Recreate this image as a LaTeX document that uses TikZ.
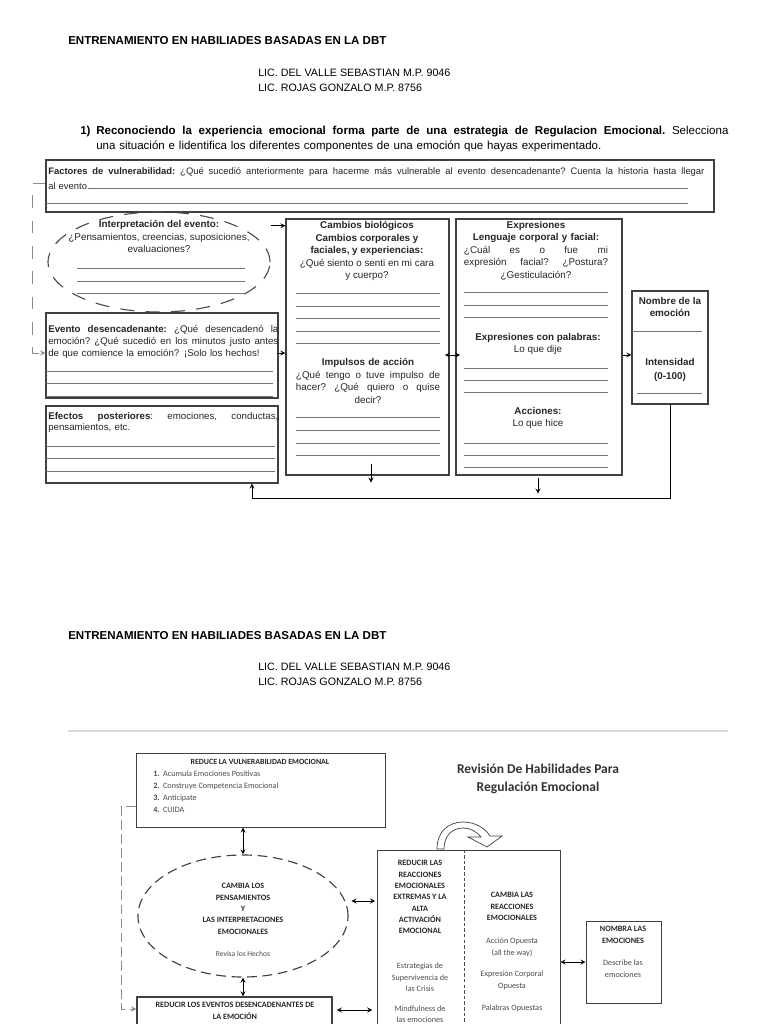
\documentclass[tikz,border=0pt]{standalone}
\usepackage{fontspec}
\setmainfont{Liberation Sans}
\newfontfamily\calibri{Carlito}
\usetikzlibrary{shapes.geometric, arrows, positioning, fit}
\tikzstyle{panel} = [rectangle, draw=black!75, line width=0.8pt, inner sep=0pt]
\tikzstyle{blank} = [draw=black!55, line width=0.45pt]
\tikzstyle{arrow} = [line width=0.6pt, ->, >=stealth]
\tikzstyle{twoway} = [line width=0.6pt, <->, >=stealth]
\tikzstyle{guide} = [draw=black!45, line width=0.7pt, ->, >=stealth]
\tikzstyle{formtext} = [inner sep=0pt, font=\fontsize{7}{8.9}\selectfont, align=center, text=black!85]
\tikzstyle{cardbold} = [inner sep=0pt, font=\calibri\bfseries\fontsize{5.8}{8.1}\selectfont, align=center, text=black!85]
\tikzstyle{cardtext} = [inner sep=0pt, font=\calibri\fontsize{5.8}{8.1}\selectfont, align=center, text=black!70]
\newcommand{\spread}[1]{\leavevmode\hbox to \hsize{\frenchspacing\spaceskip=0.27em plus 2em minus 0.04em\xspaceskip=\spaceskip\relax #1}}

\begin{document}
\begin{tikzpicture}[x=0.025cm, y=-0.025cm]
    \useasboundingbox (0,0) rectangle (768,1024);
    \fill [white] (0,0) rectangle (768,1024);
    \clip (0,0) rectangle (768,1024);

    % Page 1: header
    \node (head) [anchor=west, inner sep=0pt, font=\bfseries\fontsize{8.2}{10}\selectfont] at (68,41) {ENTRENAMIENTO EN HABILIADES BASADAS EN LA DBT};
    \node (lic) [anchor=north west, inner sep=0pt, align=left, font=\fontsize{7.6}{10.7}\selectfont] at (258,69) {LIC. DEL VALLE SEBASTIAN M.P. 9046\\LIC. ROJAS GONZALO M.P. 8756};
    \node (num) [anchor=north west, inner sep=0pt, font=\bfseries\fontsize{8.2}{10.7}\selectfont] at (80,126) {1)};
    \node (task) [anchor=north west, inner sep=0pt, align=left, text width=15.8cm, font=\fontsize{8.2}{10.7}\selectfont] at (96,126) {\spread{\textbf{Reconociendo la experiencia emocional forma parte de una estrategia de Regulacion Emocional.} Selecciona}\\una situación e lidentifica los diferentes componentes de una emoción que hayas experimentado.};

    % Form boxes
    \node (factores) [panel, fit={(46,160) (714,212)}] {};
    \node (factext) [formtext, anchor=north west, align=left, text width=16.4cm, font=\fontsize{6.7}{11}\selectfont] at (48,167) {\spread{\textbf{Factores de vulnerabilidad:} ¿Qué sucedió anteriormente para hacerme más vulnerable al evento desencadenante? Cuenta la historia hasta llegar}\\al evento.};
    \draw [blank] (89,188) -- (688,188);
    \draw [blank] (46,203) -- (688,203);

    \node (interp) [ellipse, draw=black!70, line width=0.8pt, dash pattern=on 10pt off 8pt, minimum width=5.55cm, minimum height=2.5cm, inner sep=0pt] at (159,262) {};
    \node (interptext) [formtext, anchor=north] at (159,220) {\textbf{Interpretación del evento:}\\¿Pensamientos, creencias, suposiciones,\\evaluaciones?};
    \foreach \y in {268,281,293}
        \draw [blank] (77,\y) -- (245,\y);

    \node (cambios) [panel, fit={(286,219) (449,475)}] {};
    \node (cambiostext) [formtext, anchor=north] at (367,221) {\textbf{Cambios biológicos}\\\textbf{Cambios corporales y}\\\textbf{faciales, y experiencias:}\\¿Qué siento o senti en mi cara\\y cuerpo?};
    \foreach \y in {293,306,318,331,343}
        \draw [blank] (296,\y) -- (440,\y);
    \node (impulsos) [formtext, anchor=north, text width=3.6cm] at (368,358) {\textbf{Impulsos de acción}\\\spread{¿Qué tengo o tuve impulso de}\\\spread{hacer? ¿Qué quiero o quise}\\decir?};
    \foreach \y in {417,430,443,455}
        \draw [blank] (296,\y) -- (440,\y);

    \node (expresiones) [panel, fit={(456,219) (622,475)}] {};
    \node (exprtext) [formtext, anchor=north, text width=3.6cm] at (536,221) {\textbf{Expresiones}\\\textbf{Lenguaje corporal y facial:}\\\spread{¿Cuál\hfill es\hfill o\hfill fue\hfill mi}\\\spread{expresión facial? ¿Postura?}\\¿Gesticulación?};
    \foreach \y in {292,305,317}
        \draw [blank] (464,\y) -- (608,\y);
    \node (palabras) [formtext, anchor=north] at (538,333) {\textbf{Expresiones con palabras:}\\Lo que dije};
    \foreach \y in {368,380,392}
        \draw [blank] (464,\y) -- (608,\y);
    \node (acciones) [formtext, anchor=north] at (538,407) {\textbf{Acciones:}\\Lo que hice};
    \foreach \y in {443,455,467}
        \draw [blank] (464,\y) -- (608,\y);

    \node (nombre) [panel, fit={(632,291) (708,404)}] {};
    \node (nombretext) [formtext, anchor=north] at (670,297) {\textbf{Nombre de la}\\\textbf{emoción}};
    \draw [blank] (632,331) -- (702,331);
    \node (intens) [formtext, anchor=north, font=\fontsize{7}{10}\selectfont] at (670,358) {\textbf{Intensidad}\\\textbf{(0-100)}};
    \draw [blank] (637,393) -- (702,393);

    \node (evento) [panel, fit={(46,313) (278,398)}] {};
    \node (eventext) [formtext, anchor=north west, align=left, text width=5.75cm, font=\fontsize{6.9}{8.4}\selectfont] at (48,325) {\spread{\textbf{Evento desencadenante:} ¿Qué desencadenó la}\\\spread{emoción? ¿Qué sucedió en los minutos justo antes}\\de que comience la emoción? ¡Solo los hechos!};
    \foreach \y in {371,383,396}
        \draw [blank] (46,\y) -- (273,\y);

    \node (efectos) [panel, fit={(46,406) (278,483)}] {};
    \node (eftext) [formtext, anchor=north west, align=left, text width=5.75cm, font=\fontsize{6.9}{7.6}\selectfont] at (48,412) {\spread{\textbf{Efectos posteriores}: emociones, conductas,}\\pensamientos, etc.};
    \foreach \y in {446,458,471}
        \draw [blank] (46,\y) -- (275,\y);

    % Form arrows
    \draw [guide, dash pattern=on 9pt off 9pt] (factores.west |- 0,183) -- ++(-13,0) |- (evento.west |- 0,353);
    \draw [arrow, shorten <=0.85cm] (interp.25) -- (interp.25 -| cambios.west);
    \draw [arrow, shorten <=-0.05cm] (evento.east |- 0,353) -- (cambios.west |- 0,353);
    \draw [twoway, shorten <=-0.12cm, shorten >=-0.12cm] (cambios.east |- 0,355) -- (expresiones.west |- 0,355);
    \draw [arrow] (expresiones.east |- 0,355) -- (nombre.west |- 0,355);
    \draw [arrow] (cambios.south -| 371,0) ++(0,-12) -- ++(0,19);
    \draw [arrow] (expresiones.south -| 538,0) ++(0,2) -- ++(0,16);
    \draw [arrow] (nombre.south) -- (nombre.south |- 0,498) -| (efectos.south -| 252,0);

    % Page 2: header
    \node (head2) [anchor=west, inner sep=0pt, font=\bfseries\fontsize{8.2}{10}\selectfont] at (68,636) {ENTRENAMIENTO EN HABILIADES BASADAS EN LA DBT};
    \node (lic2) [anchor=north west, inner sep=0pt, align=left, font=\fontsize{7.6}{10.7}\selectfont] at (258,663) {LIC. DEL VALLE SEBASTIAN M.P. 9046\\LIC. ROJAS GONZALO M.P. 8756};
    \draw [black!15, line width=1.5pt] (68,731) -- (728,731);

    \node (titulo) [inner sep=0pt, align=center, text=black!80, font=\calibri\bfseries\fontsize{9.6}{12.8}\selectfont] at (538,779) {Revisión De Habilidades Para\\Regulación Emocional};

    % Skills chart
    \node (reduce) [panel, line width=0.7pt, fit={(136,753) (385,827)}] {};
    \node (reducetitle) [cardbold, anchor=north, font=\calibri\bfseries\fontsize{5.6}{7}\selectfont] at (260,759) {REDUCE LA VULNERABILIDAD EMOCIONAL};
    \node (reducelist) [cardtext, anchor=north west, align=left, font=\calibri\fontsize{5.8}{8.5}\selectfont] at (153,771) {\makebox[7pt][l]{\textbf{1.}}Acumula Emociones Positivas\\\makebox[7pt][l]{\textbf{2.}}Construye Competencia Emocional\\\makebox[7pt][l]{\textbf{3.}}Anticipate\\\makebox[7pt][l]{\textbf{4.}}CUIDA};

    \node (pensar) [ellipse, draw=black!75, line width=0.8pt, dash pattern=on 7pt off 4pt, minimum width=5.25cm, minimum height=3.05cm, inner sep=0pt] at (243,916) {};
    \node (pensartext) [cardbold, anchor=north] at (243,883) {CAMBIA LOS\\PENSAMIENTOS\\Y\\LAS INTERPRETACIONES\\EMOCIONALES};
    \node (hechos) [cardtext, font=\calibri\fontsize{5.4}{7}\selectfont] at (243,954) {Revisa los Hechos};

    \node (eventos) [panel, line width=0.9pt, fit={(137,997) (332,1040)}] {};
    \node (eventostext) [cardbold, anchor=north] at (235,1002) {REDUCIR LOS EVENTOS DESENCADENANTES DE\\LA EMOCIÓN};

    \node (reacc) [panel, line width=0.7pt, fit={(377,850) (560,1040)}] {};
    \draw [black!70, line width=0.7pt, dash pattern=on 2.5pt off 1.5pt] (reacc.north -| 464,0) -- (reacc.south -| 464,0);
    \node (extremas) [cardbold, anchor=north] at (420,860) {REDUCIR LAS\\REACCIONES\\EMOCIONALES\\EXTREMAS Y LA\\ALTA\\ACTIVACIÓN\\EMOCIONAL};
    \node (crisis) [cardtext, anchor=north] at (420,963) {Estrategias de\\Supervivencia de\\las Crisis};
    \node (mindful) [cardtext, anchor=north, font=\calibri\fontsize{5.8}{7.4}\selectfont] at (420,1006) {Mindfulness de\\las emociones};
    \node (cambiareac) [cardbold, anchor=north] at (512,892) {CAMBIA LAS\\REACCIONES\\EMOCIONALES};
    \node (opuesta) [cardtext, anchor=north] at (512,938) {Acción Opuesta\\(all the way)};
    \node (corporal) [cardtext, anchor=north] at (512,971) {Expresión Corporal\\Opuesta};
    \node (palabrasop) [cardtext, anchor=north] at (512,1005) {Palabras Opuestas};

    \node (nombra) [panel, line width=0.7pt, fit={(586,921) (661,1003)}] {};
    \node (nombratext) [cardbold, anchor=north] at (623,926) {NOMBRA LAS\\EMOCIONES};
    \node (describe) [cardtext, anchor=north] at (623,960) {Describe las\\emociones};

    % Curved arrow over the chart
    \draw [black!75, line width=0.5pt, fill=white] (437,849) .. controls (437,832) and (448,822) .. (463,822) .. controls (475,822) and (485,828) .. (490,836) -- (502,836) -- (487,847) -- (468,837) -- (481,837) .. controls (476,831) and (470,828) .. (463,828) .. controls (452,828) and (444,836) .. (444,849) -- cycle;

    % Chart arrows
    \draw [guide, dash pattern=on 7pt off 3pt] (reduce.west |- 0,806) -- ++(-14,0) |- (eventos.west |- 0,1009);
    \draw [twoway] (pensar.north |- reduce.south) -- (pensar.north);
    \draw [twoway] (pensar.south) -- (pensar.south |- eventos.north);
    \draw [twoway, shorten <=2pt, shorten >=1pt] (pensar.east |- 0,901) -- (reacc.west |- 0,901);
    \draw [twoway, shorten <=3pt, shorten >=3pt] (eventos.east |- 0,1010) -- (reacc.west |- 0,1010);
    \draw [twoway] (nombra.west -| reacc.east) -- (nombra.west);
\end{tikzpicture}
\end{document}
